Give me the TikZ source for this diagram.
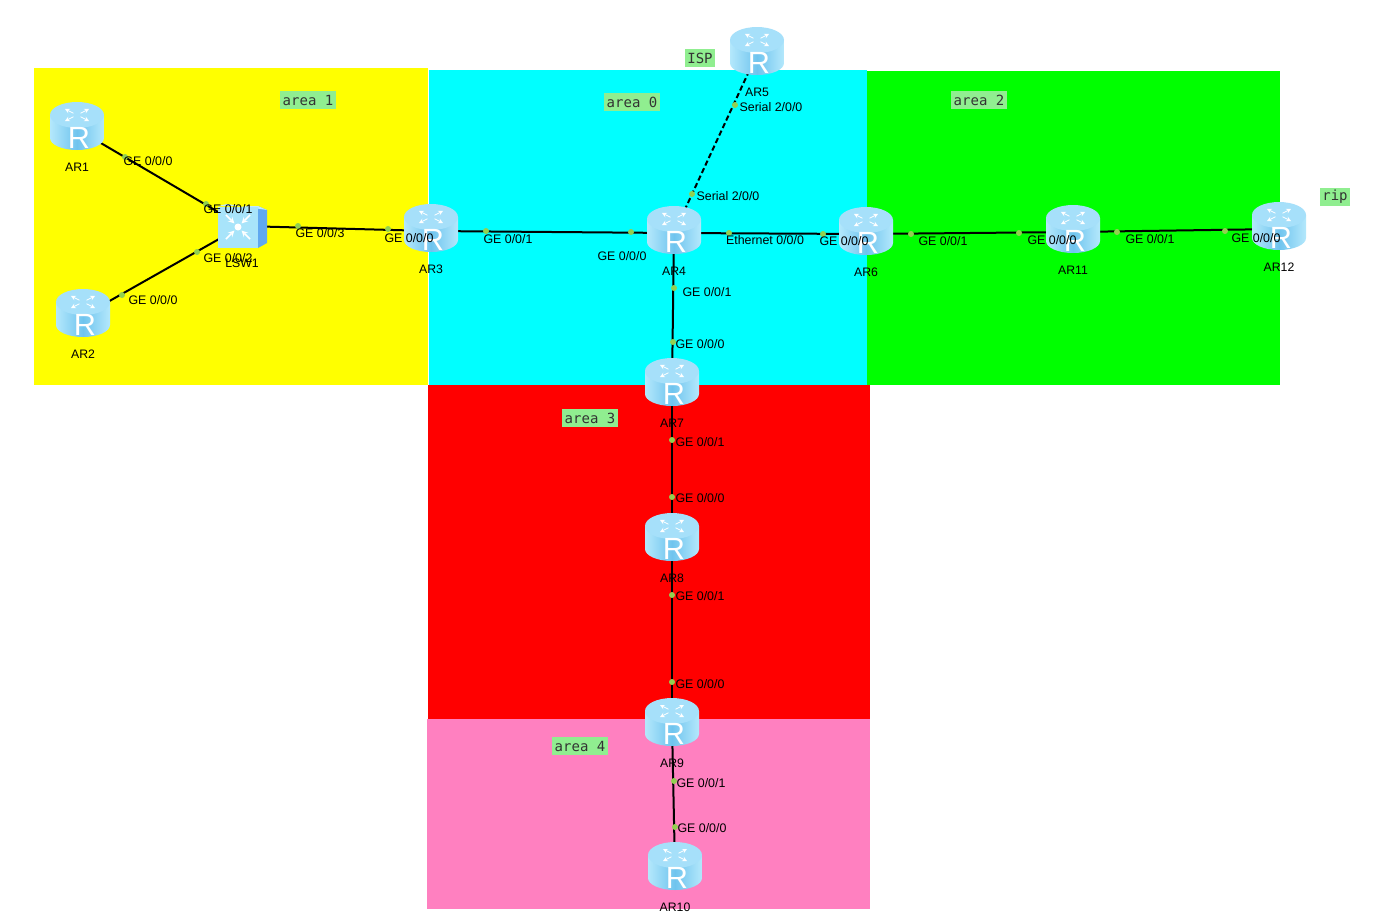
\documentclass[tikz,border=0pt]{standalone}
\usepackage{fontspec}
\setmainfont{Liberation Sans}
\newfontfamily\areafont{DejaVu Sans Mono}
\usepackage{xcolor}
\usetikzlibrary{arrows,positioning,calc,backgrounds}
\definecolor{areayellow}{HTML}{FFFF00}
\definecolor{areacyan}{HTML}{00FFFF}
\definecolor{areagreen}{HTML}{00FF00}
\definecolor{areared}{HTML}{FF0000}
\definecolor{areapink}{HTML}{FF80C0}
\definecolor{taggreen}{HTML}{90EE90}
\definecolor{portgreen}{HTML}{92D050}
\definecolor{routertop}{HTML}{A6E0FA}
\definecolor{routermid}{HTML}{6FC4EE}
\definecolor{routeredge}{HTML}{B4E8FC}
\definecolor{switchside}{HTML}{5FA8F0}
\definecolor{switchface}{HTML}{A8E4FA}
\begin{document}
\begin{tikzpicture}[
    x=0.75pt, y=-0.75pt,
    router/.style={rectangle, minimum width=60*0.75pt, minimum height=60*0.75pt, inner sep=0pt,
      label={[devlabel, yshift=-1.75pt]below:#1},
      path picture={
        \begin{scope}[shift={(path picture bounding box.center)}]
          \shade[left color=routeredge, right color=routeredge, middle color=routermid]
            (-27,-14) -- (-27,9) arc[start angle=180, end angle=0, x radius=27, y radius=12] -- (27,-14) -- cycle;
          \fill[routertop] (0,-14) ellipse[x radius=27, y radius=13];
          \foreach \ang in {45,135,225,315} {
            \draw[white, line width=0.6pt, -stealth] ($(0,-14)+(\ang:5 and 2.5)$) -- ($(0,-14)+(\ang:17 and 8.5)$);
          }
          \node[text=white, font=\fontsize{23}{23}\selectfont, inner sep=0pt] (rr) at (2,9) {R};
        \end{scope}
      }},
    switchbox/.style={rectangle, minimum width=54*0.75pt, minimum height=48*0.75pt, inner sep=0pt,
      label={[devlabel, yshift=-5.5pt]below:#1},
      path picture={
        \begin{scope}[shift={(path picture bounding box.center)}]
          \fill[switchside] (16,-20) -- (25,-16) -- (25,17) -- (16,22) -- cycle;
          \fill[switchface!70!white] (-24,-20) -- (-15,-22) -- (25,-16) -- (16,-20) -- cycle;
          \fill[switchface] (-24,-19) rectangle (16,22);
          \foreach \ang in {45,135,225,315} {
            \draw[white, line width=1.1pt, stealth-] ($(-4,1)+(\ang:5)$) -- ($(-4,1)+(\ang:17)$);
          }
          \fill[white] (-4,1) circle[radius=3.5];
        \end{scope}
      }},
    devlabel/.style={font=\fontsize{9.2}{10}\selectfont, inner sep=1pt, text=black},
    portdot/.style={circle, fill=portgreen, minimum size=4.5pt, inner sep=0pt},
    portlabel/.style={font=\fontsize{9.3}{10}\selectfont, inner sep=0pt, text=black},
    areatag/.style={fill=taggreen, font=\areafont\fontsize{10.5}{10}\selectfont, inner sep=0pt,
      minimum height=14pt, text=black!80},
    link/.style={draw=black, line width=1.5pt},
    serial/.style={draw=black, line width=1.5pt, dashed, dash pattern=on 4pt off 2.2pt}
]
    \useasboundingbox (0,0) rectangle (1400,922);

    % devices
    \node[router=AR1] (ar1) at (77,129) {};
    \node[router=AR2] (ar2) at (83,316) {};
    \node[switchbox=LSW1] (lsw1) at (242,226) {};
    \node[router=AR3] (ar3) at (431,231) {};
    \node[router=AR4] (ar4) at (674,233) {};
    \node[router=AR5] (ar5) at (757,54) {};
    \node[router=AR6] (ar6) at (866,234) {};
    \node[router=AR11] (ar11) at (1073,232) {};
    \node[router=AR12] (ar12) at (1279,229) {};
    \node[router=AR7] (ar7) at (672,385) {};
    \node[router=AR8] (ar8) at (672,540) {};
    \node[router=AR9] (ar9) at (672,725) {};
    \node[router=AR10] (ar10) at (675,869) {};

    % areas and links go behind the devices
    \begin{scope}[on background layer]
        \fill[white] (0,0) rectangle (1400,922);
        \fill[areayellow] (34,68) rectangle (428,385);
        \fill[areacyan] (429,70) rectangle (867,385);
        \fill[areagreen] (867,71) rectangle (1280,385);
        \fill[areared] (428,385) rectangle (870,719);
        \fill[areapink] (427,719) rectangle (870,909);

        \draw[link] (ar1.center) -- (lsw1.center);
        \draw[link] (ar2.center) -- (lsw1.center);
        \draw[link] (lsw1.center) -- (ar3.center);
        \draw[link] (ar3.center) -- (ar4.center);
        \draw[serial] (ar4.center) -- (ar5.center);
        \draw[link] (ar4.center) -- (ar6.center);
        \draw[link] (ar6.center) -- (ar11.center);
        \draw[link] (ar11.center) -- (ar12.center);
        \draw[link] (ar4.center) -- (ar7.center);
        \draw[link] (ar7.center) -- (ar8.center);
        \draw[link] (ar8.center) -- (ar9.center);
        \draw[link] (ar9.center) -- (ar10.center);
    \end{scope}

    % ports
    \foreach \dx/\dy/\tx/\ty/\txt [count=\i] in {
        125/157/148/161/GE 0\slash 0\slash 0, 206/204/228/209/GE 0\slash 0\slash 1,
        197/252/228/258/GE 0\slash 0\slash 2, 122/295/153/300/GE 0\slash 0\slash 0,
        298/226/320/233/GE 0\slash 0\slash 3, 388/229/409/238/GE 0\slash 0\slash 0,
        486/231/508/239/GE 0\slash 0\slash 1, 631/232/622/256/GE 0\slash 0\slash 0,
        692/194/728/196/Serial 2\slash 0\slash 0, 735/105/771/107/Serial 2\slash 0\slash 0,
        729/233/765/240/Ethernet 0\slash 0\slash 0, 823/234/844/241/GE 0\slash 0\slash 0,
        911/234/943/241/GE 0\slash 0\slash 1, 1019/233/1052/240/GE 0\slash 0\slash 0,
        1117/232/1150/239/GE 0\slash 0\slash 1, 1225/231/1256/238/GE 0\slash 0\slash 0,
        674/288/707/292/GE 0\slash 0\slash 1, 673/342/700/344/GE 0\slash 0\slash 0,
        672/440/700/442/GE 0\slash 0\slash 1, 672/497/700/498/GE 0\slash 0\slash 0,
        672/595/700/596/GE 0\slash 0\slash 1, 672/682/700/684/GE 0\slash 0\slash 0,
        674/781/701/783/GE 0\slash 0\slash 1, 675/827/702/828/GE 0\slash 0\slash 0} {
        \node[portdot] (dot\i) at (\dx,\dy) {};
        \node[portlabel] (port\i) at (\tx,\ty) {\txt};
    }

    % area tags
    \node[areatag, minimum width=42pt] (tag1) at (308,100) {area 1};
    \node[areatag, minimum width=42pt] (tag0) at (632,102) {area 0};
    \node[areatag, minimum width=42pt] (tag2) at (979,100) {area 2};
    \node[areatag, minimum width=42pt] (tag3) at (590,418) {area 3};
    \node[areatag, minimum width=42pt] (tag4) at (580,746) {area 4};
    \node[areatag, minimum width=23pt] (tagisp) at (700,58) {ISP};
    \node[areatag, minimum width=23pt] (tagrip) at (1335,197) {rip};
\end{tikzpicture}
\end{document}
